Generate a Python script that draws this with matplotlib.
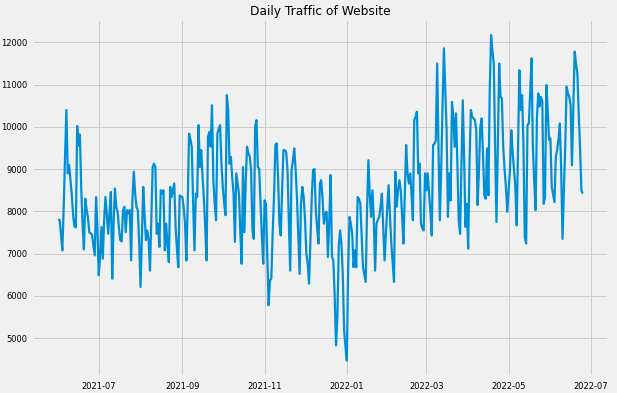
import matplotlib
matplotlib.use("Agg")
import matplotlib.pyplot as plt
import matplotlib.dates as mdates
import pandas as pd

# daily visits, 2021-06-01 onwards
start_date = "2021-06-01"
traffic = [
    7820, 7790, 7450, 7080, 8100, 9300, 10400, 8900, 9100, 8750,
    8400, 7900, 7650, 7620, 10020, 9560, 9820, 8550, 7700, 7100,
    8300, 8050, 7850, 7500, 7480, 7450, 7200, 6960, 8340, 7600,
    6490, 6950, 7630, 6880, 7800, 8340, 7900, 7470, 8000, 8460,
    6410, 7700, 8540, 8100, 7990, 7600, 7320, 7290, 8030, 8110,
    7510, 8030, 7950, 8030, 6840, 8300, 8940, 8420, 8100, 8030,
    7240, 6210, 7400, 8580, 7900, 7320, 7550, 7320, 6600, 7800,
    9050, 9130, 9050, 7470, 7710, 7160, 8500, 8420, 8500, 7080,
    7710, 7200, 6800, 8580, 8340, 8500, 8660, 7630, 7100, 6680,
    8380, 8350, 8340, 8100, 7700, 6840, 8200, 9840, 9700, 9530,
    8200, 7080, 8420, 8340, 10040, 9050, 9450, 8820, 8300, 7600,
    6840, 9760, 9880, 9530, 10510, 8740, 8200, 7790, 9840, 9950,
    10040, 9130, 8580, 8200, 7910, 10750, 10400, 9130, 9290, 8800,
    8420, 7280, 8900, 8650, 8420, 7500, 6760, 9050, 7510, 8700,
    9530, 9370, 9300, 8980, 7550, 7350, 10000, 10160, 9050, 9010,
    8200, 7390, 6760, 8260, 8180, 7000, 5780, 6370, 6410, 7500,
    8340, 9570, 9610, 8820, 7710, 7430, 8500, 9450, 9450, 9400,
    8980, 7800, 6600, 8980, 9200, 9490, 9000, 8340, 7400, 6520,
    8180, 8580, 8340, 7800, 7000, 6760, 6290, 7300, 8340, 8980,
    9000, 8030, 7600, 7240, 8660, 8740, 8300, 7710, 7950, 7990,
    6920, 7800, 8860, 6920, 6840, 6000, 4830, 5500, 7160, 7550,
    7240, 6500, 5180, 4800, 4470, 6680, 7870, 7700, 7470, 6680,
    7080, 6680, 8340, 8300, 8180, 7400, 6680, 6500, 6330, 8030,
    9210, 8400, 7870, 8500, 7800, 6600, 7710, 7800, 7870, 8110,
    8420, 7600, 6840, 7500, 8110, 8620, 7900, 7240, 6800, 6330,
    8940, 8110, 8500, 8740, 8500, 7900, 7240, 8400, 9570, 8900,
    8660, 8900, 8400, 7790, 10160, 10240, 10360, 8900, 9130, 7710,
    7600, 7550, 8900, 8500, 8900, 8420, 8000, 7430, 9570, 9600,
    9680, 11500, 9500, 7790, 9000, 10500, 11860, 10900, 9920, 7870,
    8900, 8260, 10590, 10240, 9530, 10320, 9130, 7790, 7470, 9000,
    10630, 9290, 7630, 8180, 7120, 9130, 10400, 10240, 10200, 10160,
    9920, 8150, 8980, 10000, 10200, 9370, 8380, 8300, 9490, 8380,
    10870, 12170, 11800, 11500, 9530, 7750, 9500, 11500, 10710, 10670,
    9530, 9000, 8580, 7990, 8500, 8980, 9920, 9400, 8980, 8580,
    7670, 9500, 11340, 10400, 10750, 9610, 7390, 7240, 10040, 10080,
    10800, 11620, 9530, 8700, 8030, 10200, 10790, 10480, 10710, 10600,
    8180, 8340, 10990, 10400, 9690, 9730, 8580, 8400, 8220, 9290,
    9450, 9700, 10080, 8980, 7350, 8500, 9530, 10950, 10800, 10710,
    10510, 9090, 10400, 11780, 11500, 11270, 10320, 9500, 8500, 8420,
]
dates = pd.date_range(start_date, periods=len(traffic), freq="D")
title = "Daily Traffic of Website"

plt.style.use("fivethirtyeight")
fig, ax = plt.subplots(figsize=(6.17, 3.93), dpi=100)
fig.subplots_adjust(left=0.052, right=0.987, bottom=0.041, top=0.952)

ax.plot(dates, traffic, color="#008fd5", linewidth=1.6)

ax.xaxis.set_major_locator(mdates.MonthLocator(bymonth=[1, 3, 5, 7, 9, 11]))
ax.xaxis.set_major_formatter(mdates.DateFormatter("%Y-%m"))
ax.tick_params(labelsize=6)
ax.grid(True, linewidth=0.7)
ax.set_title(title, fontsize=8.8, pad=3)

fig.savefig("out.png", dpi=100)
